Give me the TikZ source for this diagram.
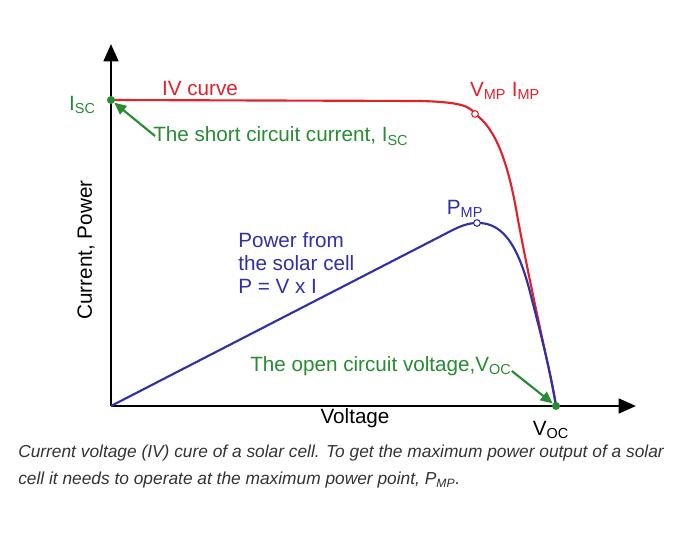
\documentclass[tikz,border=0pt]{standalone}
\usepackage{fontspec}
\setmainfont{Liberation Sans}
\usetikzlibrary{arrows.meta}
\definecolor{ivred}{RGB}{228,32,44}
\definecolor{pwblue}{RGB}{48,48,168}
\definecolor{ocgreen}{RGB}{40,140,50}
\tikzset{
 lbl/.style={font=\fontsize{15.5}{17.5}\selectfont, inner sep=0pt},
 gl/.style={lbl, text=ocgreen},
 garrow/.style={ocgreen, line width=1.6pt, -{Triangle[length=9pt,width=8pt]}},
 axis/.style={black, line width=2pt, -{Triangle[length=13pt,width=11pt]}},
 mp/.style={circle, draw, fill=white, inner sep=0pt, minimum size=5pt, line width=0.8pt},
 gdot/.style={circle, fill=ocgreen, inner sep=0pt, minimum size=6pt}
}
\begin{document}
\begin{tikzpicture}[x=0.75pt,y=-0.75pt]
\useasboundingbox[fill=white] (0,0) rectangle (696,538);
\coordinate (O) at (111,406);
\coordinate (ytip) at (111,44);
\coordinate (xtip) at (636,406);
\draw[axis] (O) -- (ytip);
\draw[axis] (O) -- (xtip);
\coordinate (isc) at (111,100);
\coordinate (voc) at (556,406);
\coordinate (vmp) at (475,114);
\coordinate (pmp) at (477,223);
\draw[ivred, line width=1.6pt] (isc) -- (420,101) .. controls (460,102) and (470,106) .. (vmp)
  .. controls (495,128) and (508,160) .. (518,220) .. controls (535,310) and (550,370) .. (voc);
\draw[pwblue, line width=1.6pt] (O) -- (445,234) .. controls (458,227) and (467,223) .. (pmp)
  .. controls (505,222) and (520,250) .. (532,300) .. controls (545,350) and (552,380) .. (voc);
\node[mp, draw=ivred] (vmpn) at (vmp) {};
\node[mp, draw=pwblue] (pmpn) at (pmp) {};
\node[gdot] (iscn) at (isc) {};
\node[gdot] (vocn) at (voc) {};
\node[lbl, text=ivred] (ivc) at (200,88) {IV curve};
\node[lbl, text=ivred] (vmpl) at (505,91) {V\textsubscript{MP} I\textsubscript{MP}};
\node[gl, anchor=east] (iscl) at (96,105) {I\textsubscript{SC}};
\node[gl, anchor=west] (scl) at (153,136) {The short circuit current, I\textsubscript{SC}};
\draw[garrow] (scl.west) ++(2,0) -- (iscn);
\node[lbl, text=pwblue] (pmpl) at (465,209) {P\textsubscript{MP}};
\node[lbl, text=pwblue, align=left, anchor=north west] (pw) at (238,232) {Power from\\the solar cell\\P = V x I};
\node[gl, anchor=west] (ocl) at (250,366) {The open circuit voltage,V\textsubscript{OC}};
\draw[garrow] (ocl.east) ++(0,5) -- (vocn);
\node[lbl] (vl) at (355,418) {Voltage};
\node[lbl] (vocl) at (551,430) {V\textsubscript{OC}};
\node[lbl, rotate=90] (cp) at (86,250) {Current, Power};
\node[font=\itshape\fontsize{13}{16}\selectfont, text=black!80, anchor=north west, align=left, inner sep=0pt] (cap) at (18,445)
 {Current voltage (IV) cure of a solar cell. To get the maximum power output of a solar\\[4pt]cell it needs to operate at the maximum power point, P\textsubscript{MP}.};
\end{tikzpicture}
\end{document}
